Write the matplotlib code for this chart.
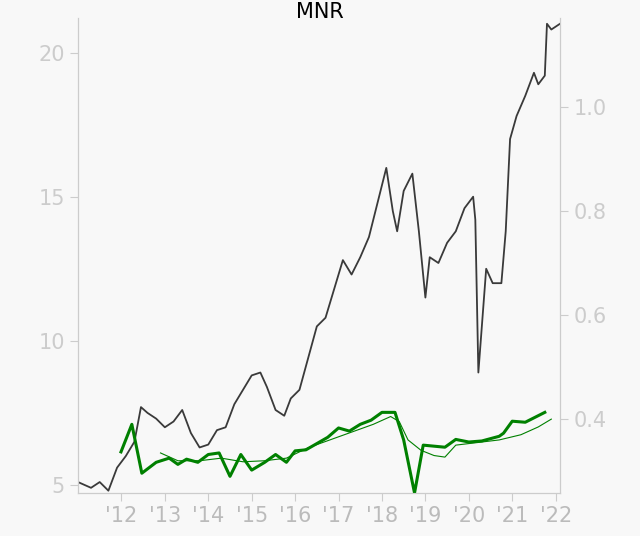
import matplotlib
matplotlib.use("Agg")
import matplotlib.pyplot as plt

price_t = [2011.0,2011.3,2011.5,2011.7,2011.9,2012.1,2012.3,2012.45,2012.6,2012.8,2013.0,2013.2,2013.4,2013.6,2013.8,2014.0,2014.2,2014.4,2014.6,2014.8,2015.0,2015.2,2015.35,2015.55,2015.75,2015.9,2016.1,2016.3,2016.5,2016.7,2016.9,2017.1,2017.3,2017.5,2017.7,2017.9,2018.1,2018.25,2018.35,2018.5,2018.7,2018.85,2019.0,2019.1,2019.3,2019.5,2019.7,2019.9,2020.1,2020.15,2020.22,2020.3,2020.4,2020.55,2020.75,2020.85,2020.95,2021.1,2021.3,2021.5,2021.6,2021.75,2021.8,2021.9,2022.1]
price_v = [5.1,4.9,5.1,4.8,5.6,6.0,6.5,7.7,7.5,7.3,7.0,7.2,7.6,6.8,6.3,6.4,6.9,7.0,7.8,8.3,8.8,8.9,8.4,7.6,7.4,8.0,8.3,9.4,10.5,10.8,11.8,12.8,12.3,12.9,13.6,14.8,16.0,14.5,13.8,15.2,15.8,13.8,11.5,12.9,12.7,13.4,13.8,14.6,15.0,14.2,8.9,10.5,12.5,12.0,12.0,13.8,17.0,17.8,18.5,19.3,18.9,19.2,21.0,20.8,21.0]

div_t = [2011.99,2012.24,2012.47,2012.8,2013.1,2013.3,2013.5,2013.76,2014.0,2014.25,2014.5,2014.75,2015.0,2015.3,2015.55,2015.8,2016.0,2016.25,2016.75,2017.0,2017.25,2017.5,2017.75,2018.0,2018.3,2018.5,2018.75,2018.95,2019.45,2019.7,2020.0,2020.3,2020.7,2020.8,2021.0,2021.3,2021.75]
div_v = [0.337,0.39,0.296,0.317,0.325,0.313,0.323,0.317,0.332,0.335,0.29,0.332,0.302,0.317,0.332,0.317,0.339,0.341,0.365,0.383,0.377,0.39,0.398,0.413,0.413,0.36,0.258,0.35,0.346,0.361,0.356,0.358,0.367,0.373,0.396,0.394,0.413]

avg_t = [2012.9,2013.3,2013.8,2014.3,2014.8,2015.3,2015.8,2016.3,2016.8,2017.3,2017.8,2018.2,2018.4,2018.6,2018.9,2019.2,2019.45,2019.7,2020.2,2020.7,2021.2,2021.6,2021.9]
avg_v = [0.335,0.32,0.32,0.325,0.318,0.32,0.325,0.345,0.36,0.375,0.39,0.405,0.395,0.36,0.34,0.33,0.327,0.35,0.355,0.36,0.37,0.385,0.4]

xticks = [2012+i for i in range(11)]
xlabels = ["'%02d" % (12+i) for i in range(11)]

bg = '#f8f8f8'
gray = '#cccccc'
fig = plt.figure(figsize=(6.4,5.36), dpi=100, facecolor=bg)
ax = fig.add_axes([78/640, 43/536, (560-78)/640, 475/536], facecolor=bg)
ax.plot(price_t, price_v, color='#3a3a3a', lw=1.3)
ax.set_xlim(2011.0, 2022.1)
ax.set_ylim(4.72, 21.2)
ax.set_yticks([5,10,15,20])
ax.set_xticks(xticks)
ax.set_xticklabels(xlabels)
ax2 = ax.twinx()
ax2.plot(div_t, div_v, color='green', lw=2.2)
ax2.plot(avg_t, avg_v, color='green', lw=0.8)
ax2.set_ylim(0.258, 1.171)
ax2.set_yticks([0.4,0.6,0.8,1.0])
ax2.set_yticklabels(['0.4','0.6','0.8','1.0'])
for a in (ax, ax2):
    a.spines['top'].set_visible(False)
    for s in ('left','right','bottom'):
        a.spines[s].set_color(gray)
    a.tick_params(colors=gray, labelsize=15, length=6)
    a.tick_params(axis='x', labelcolor='#bbbbbb')
fig.text(0.5, 1 - 12/536, 'MNR', fontsize=15, ha='center', va='center')
fig.savefig('out.png', dpi=100, facecolor=bg)
